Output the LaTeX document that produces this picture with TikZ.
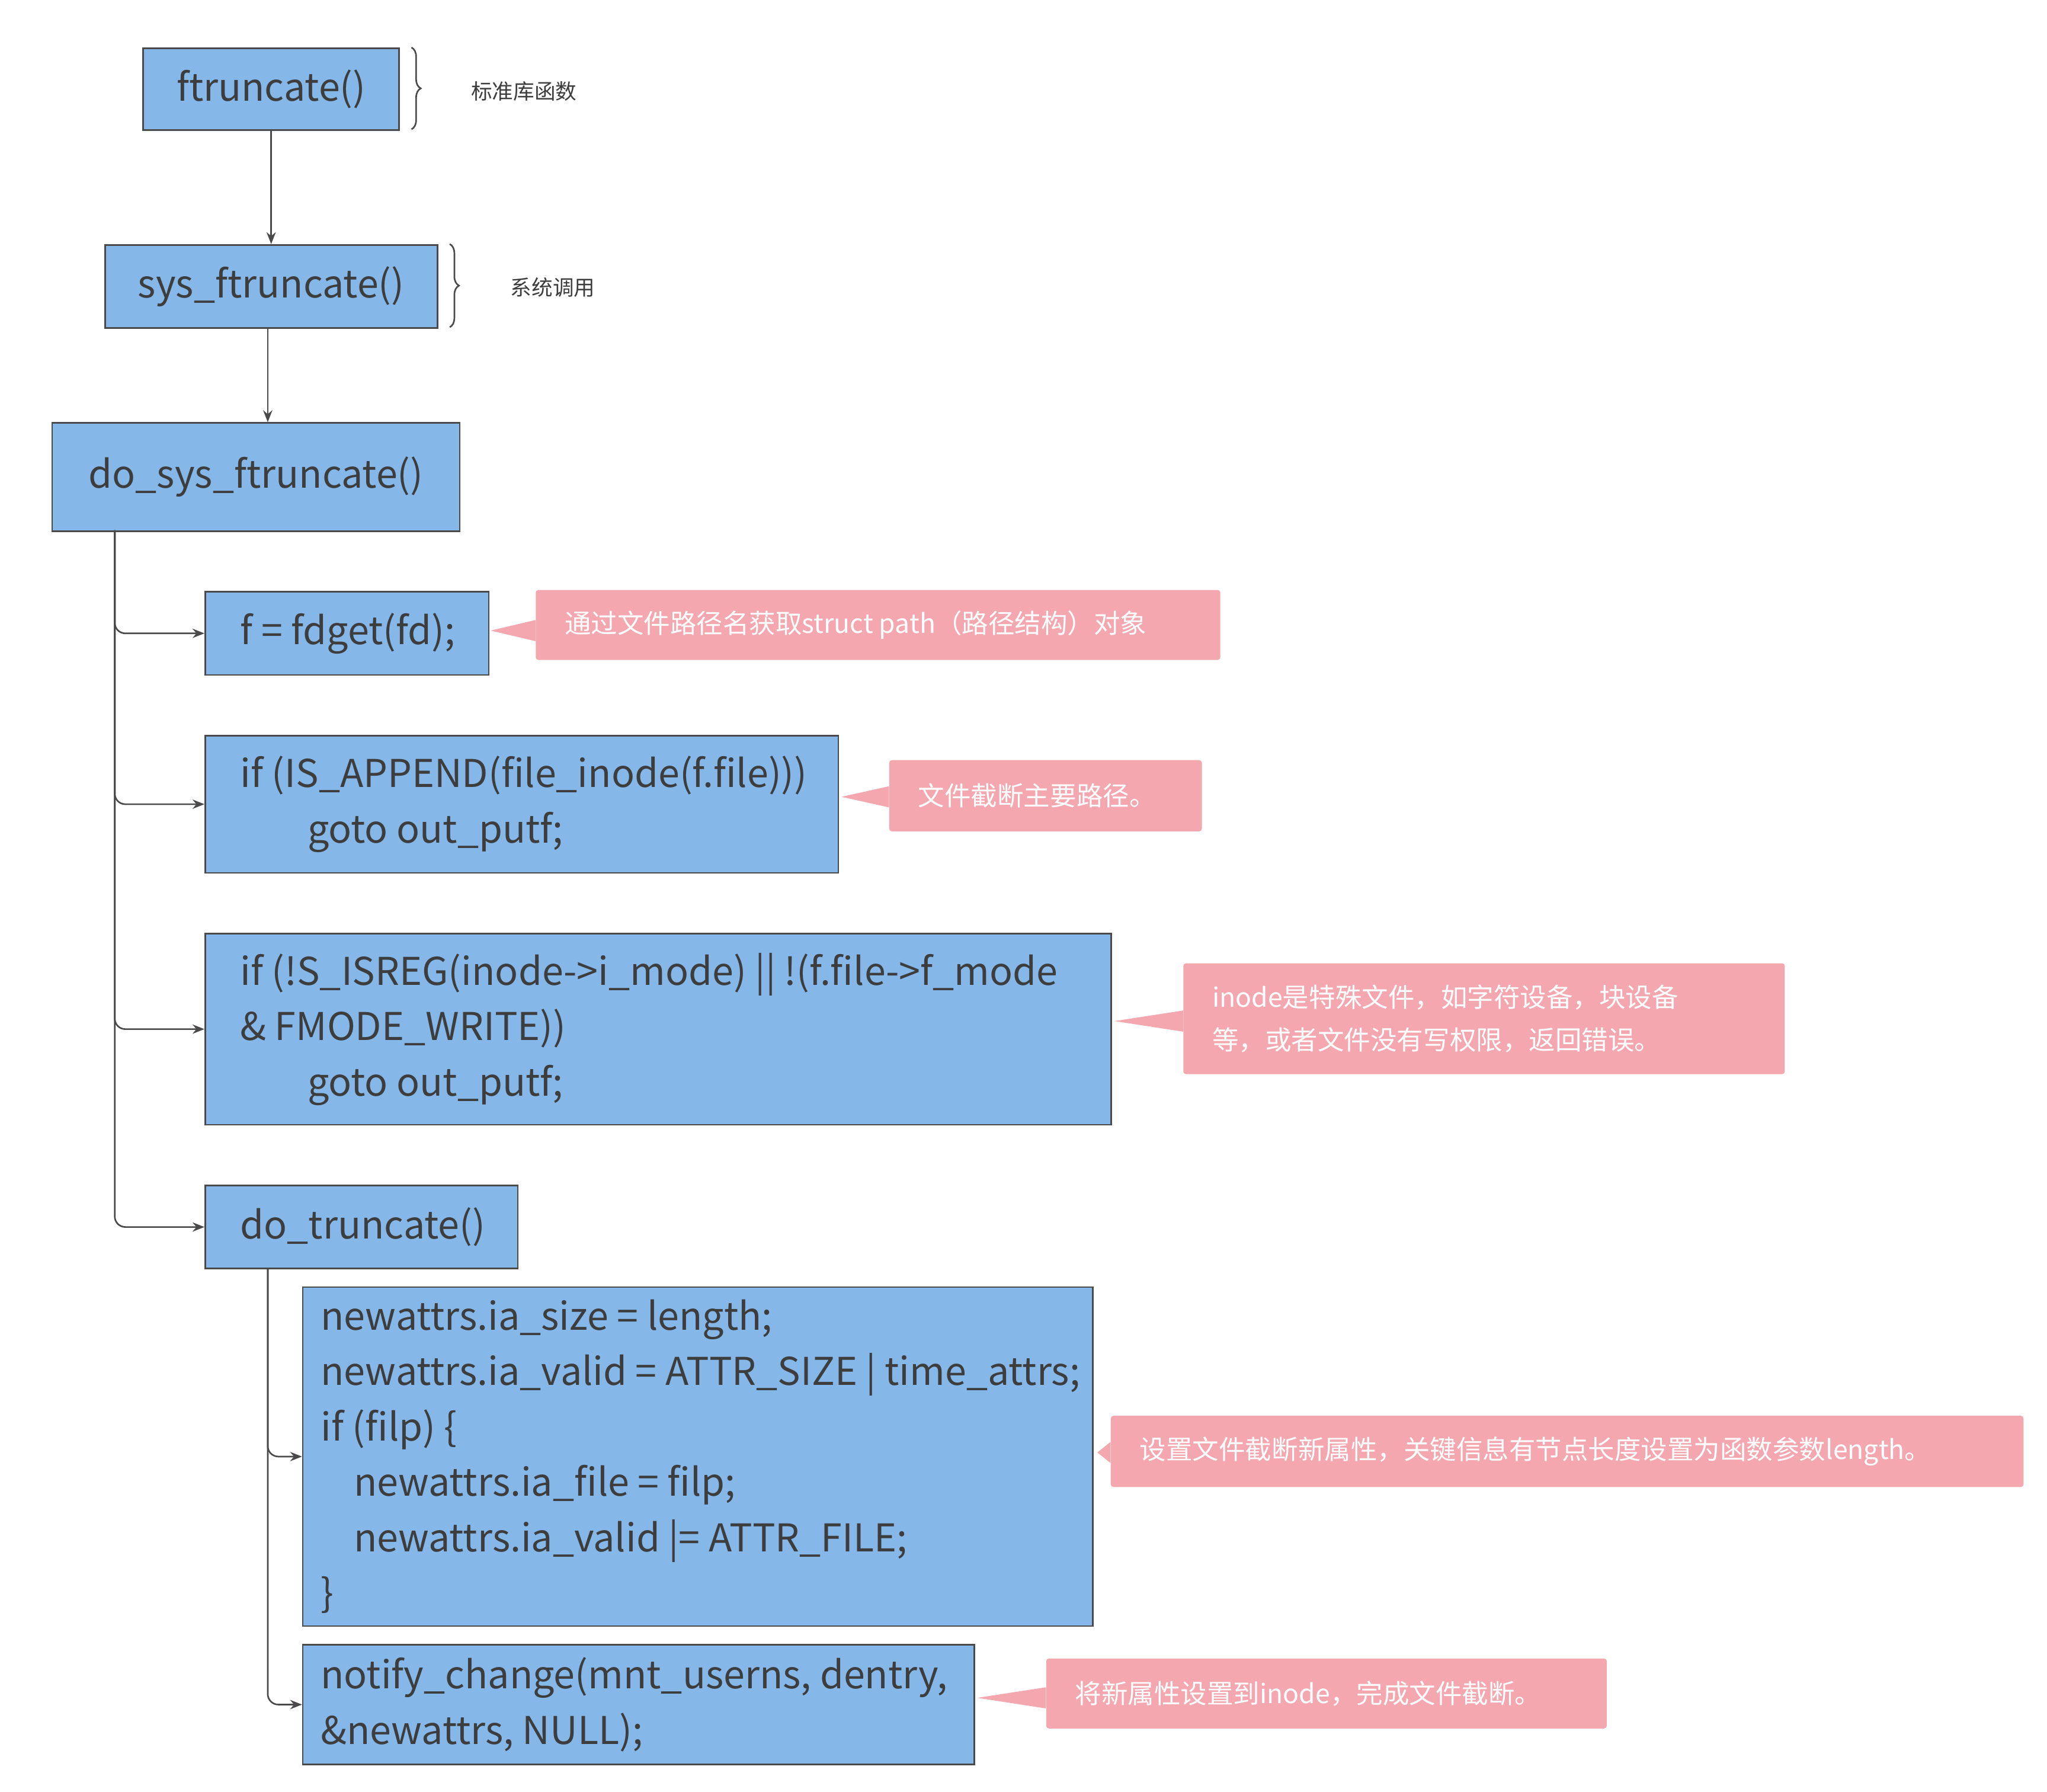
\documentclass[tikz,border=0pt]{standalone}
\usepackage{fontspec}
\setmainfont{Noto Sans CJK SC}
\usetikzlibrary{arrows.meta,decorations.pathreplacing}
\definecolor{boxblue}{HTML}{85B8E8}
\definecolor{boxline}{HTML}{4A4A4A}
\definecolor{txt}{HTML}{3D3D3D}
\definecolor{pink}{HTML}{F4A7AE}
\begin{document}
\begin{tikzpicture}[x=1pt,y=-1pt,
  box/.style={draw=boxline,fill=boxblue,line width=1.2pt,anchor=north west,inner sep=0pt},
  btxt/.style={text=txt,font=\fontsize{29}{42}\selectfont,anchor=west,align=left,inner sep=0pt},
  note/.style={fill=pink,draw=none,anchor=north west,inner sep=0pt,rounded corners=2pt},
  ntxt/.style={text=white,font=\fontsize{20}{32}\selectfont,anchor=west,align=left,inner sep=0pt},
  conn/.style={draw=boxline,line width=1.2pt,-{Stealth[length=9pt,width=7pt]}},
  brace/.style={draw=boxline,line width=1.2pt,decorate,decoration={brace,amplitude=7pt}},
  small/.style={text=txt,font=\fontsize{16}{20}\selectfont,anchor=west,inner sep=0pt}]
\useasboundingbox (0,0) rectangle (1552,1358);
\fill[white] (0,0) rectangle (1552,1358);
% main boxes
\node[box,minimum width=194,minimum height=62] (ft) at (108,36) {};
\node[text=txt,font=\fontsize{29}{42}\selectfont] at (ft.center) {ftruncate()};
\node[box,minimum width=252,minimum height=63] (sys) at (79,185) {};
\node[text=txt,font=\fontsize{29}{42}\selectfont] at (sys.center) {sys\_ftruncate()};
\node[box,minimum width=309,minimum height=82] (dsys) at (39,320) {};
\node[text=txt,font=\fontsize{29}{42}\selectfont] at (dsys.center) {do\_sys\_ftruncate()};
\node[box,minimum width=215,minimum height=63] (fd) at (155,448) {};
\node[btxt] at ([xshift=27]fd.west) {f = fdget(fd);};
\node[box,minimum width=480,minimum height=104] (app) at (155,557) {};
\node[btxt] at ([xshift=27]app.west) {if (IS\_APPEND(file\_inode(f.file)))\\\hspace*{51pt}goto out\_putf;};
\node[box,minimum width=687,minimum height=145] (reg) at (155,707) {};
\node[btxt] at ([xshift=27]reg.west) {if (!S\_ISREG(inode->i\_mode) || !(f.file->f\_mode\\\& FMODE\_WRITE))\\\hspace*{51pt}goto out\_putf;};
\node[box,minimum width=237,minimum height=63] (dt) at (155,898) {};
\node[btxt] at ([xshift=27]dt.west) {do\_truncate()};
\node[box,minimum width=599,minimum height=257] (na) at (229,975) {};
\node[btxt] at ([xshift=14]na.west) {newattrs.ia\_size = length;\\newattrs.ia\_valid = ATTR\_SIZE | time\_attrs;\\if (filp) \{\\\hspace*{25pt}newattrs.ia\_file = filp;\\\hspace*{25pt}newattrs.ia\_valid |= ATTR\_FILE;\\\}};
\node[box,minimum width=509,minimum height=91] (nc) at (229,1246) {};
\node[btxt] at ([xshift=14]nc.west) {notify\_change(mnt\_userns, dentry,\\\&newattrs, NULL);};
% braces & labels
\draw[brace] (312,36) -- (312,98);
\node[small] (l1) at (357,69) {标准库函数};
\draw[brace] (341,185) -- (341,248);
\node[small] (l2) at (387,218) {系统调用};
% connectors
\draw[conn] (ft.south) -- (sys.north -| ft.south);
\draw[conn] (203,248) -- (dsys.north -| 203,0);
\coordinate (t1) at (87,402);
\foreach \b in {fd,app,reg,dt} \draw[conn,rounded corners=8pt] (t1) |- (\b.west);
\coordinate (t2) at (203,961);
\foreach \b in {na,nc} \draw[conn,rounded corners=8pt] (t2) |- (\b.west);
% notes
\node[note,minimum width=519,minimum height=53] (n1) at (406,447) {};
\fill[pink] (406,470) -- (372,478) -- (406,486) -- cycle;
\node[ntxt] at ([xshift=22]n1.west) {通过文件路径名获取struct path（路径结构）对象};
\node[note,minimum width=237,minimum height=54] (n2) at (674,576) {};
\fill[pink] (674,596) -- (638,604) -- (674,612) -- cycle;
\node[ntxt] at ([xshift=22]n2.west) {文件截断主要路径。};
\node[note,minimum width=456,minimum height=84] (n3) at (897,730) {};
\fill[pink] (897,766) -- (845,774) -- (897,782) -- cycle;
\node[ntxt] at ([xshift=22]n3.west) {inode是特殊文件，如字符设备，块设备\\等，或者文件没有写权限，返回错误。};
\node[note,minimum width=692,minimum height=54] (n4) at (842,1073) {};
\fill[pink] (842,1093) -- (832,1101) -- (842,1109) -- cycle;
\node[ntxt] at ([xshift=22]n4.west) {设置文件截断新属性，关键信息有节点长度设置为函数参数length。};
\node[note,minimum width=425,minimum height=53] (n5) at (793,1257) {};
\fill[pink] (793,1279) -- (741,1287) -- (793,1295) -- cycle;
\node[ntxt] at ([xshift=22]n5.west) {将新属性设置到inode，完成文件截断。};
\end{tikzpicture}
\end{document}
